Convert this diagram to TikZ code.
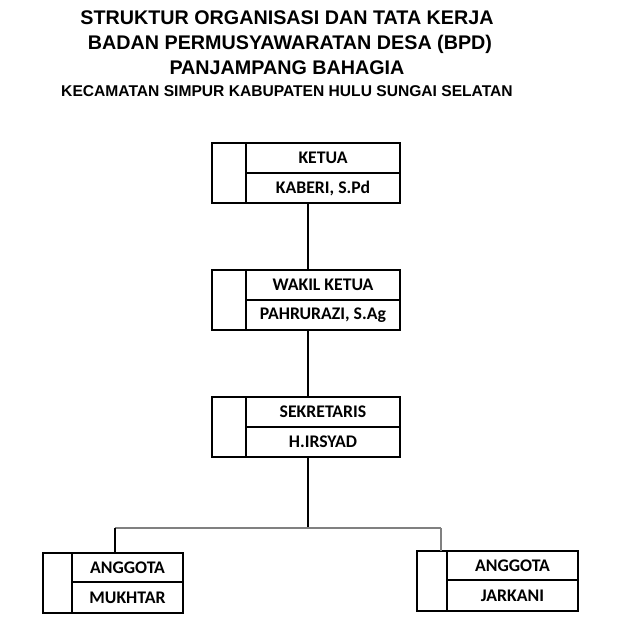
\documentclass[tikz,border=0pt]{standalone}
\usepackage{fontspec}
\setmainfont{Carlito}
\newfontfamily\titlefont{Liberation Sans}
\begin{document}
\begin{tikzpicture}[x=0.75pt,y=-0.75pt,
  lbl/.style={font=\bfseries\fontsize{13.3}{15}\selectfont},
  ttl/.style={font=\titlefont\bfseries\fontsize{14.8}{16}\selectfont},
  ln/.style={draw=black,line width=0.8pt}]
\useasboundingbox (0,0) rectangle (636,626);
% title
\node[ttl] (t1) at (287,18) {STRUKTUR ORGANISASI DAN TATA KERJA};
\node[ttl] (t2) at (290,44) {BADAN PERMUSYAWARATAN DESA (BPD)};
\node[ttl] (t3) at (287,68) {PANJAMPANG BAHAGIA};
\node[font=\titlefont\bfseries\fontsize{11.7}{13}\selectfont] (t4) at (287,91) {KECAMATAN SIMPUR KABUPATEN HULU SUNGAI SELATAN};
\newcommand{\orgbox}[9]{%
  \draw[ln] (#2,#3) rectangle (#4,#5);
  \draw[ln] (#6,#3) -- (#6,#5);
  \draw[ln] (#6,#7) -- (#4,#7);
  \node[lbl] (#1a) at ({(#6+#4)/2},{(#3+#7)/2}) {#8};
  \node[lbl] (#1b) at ({(#6+#4)/2},{(#7+#5)/2}) {#9};
  \coordinate (#1t) at ({(#6+#4)/2},#3);
  \coordinate (#1n) at ({(#6+#4)/2},#5);
}
\orgbox{k}{212}{143}{400}{203}{246}{173}{KETUA}{KABERI, S.Pd}
\orgbox{w}{212}{270}{400}{330}{246}{300}{WAKIL KETUA}{PAHRURAZI, S.Ag}
\orgbox{s}{212}{397}{400}{457}{246}{427}{SEKRETARIS}{H.IRSYAD}
\orgbox{l}{43}{553}{183}{613}{72}{582}{ANGGOTA}{MUKHTAR}
\orgbox{r}{417}{551}{578}{611}{447}{580}{ANGGOTA}{JARKANI}
\coordinate (kc) at (308,203);
\coordinate (wt) at (308,270);
\coordinate (wc) at (308,330);
\coordinate (st) at (308,397);
\coordinate (sc) at (308,457);
\coordinate (j) at (308,528);
\coordinate (lj) at (115,528);
\coordinate (lt) at (115,553);
\coordinate (rj) at (441,528);
\coordinate (rt) at (441,551);
\draw[ln] (kc) -- (wt);
\draw[ln] (wc) -- (st);
\draw[ln] (sc) -- (j);
\draw[draw=gray,line width=0.8pt] (lj) -- (rj);
\draw[ln] (lj) -- (lt);
\draw[draw=gray,line width=0.8pt] (rj) -- (rt);
\end{tikzpicture}
\end{document}
